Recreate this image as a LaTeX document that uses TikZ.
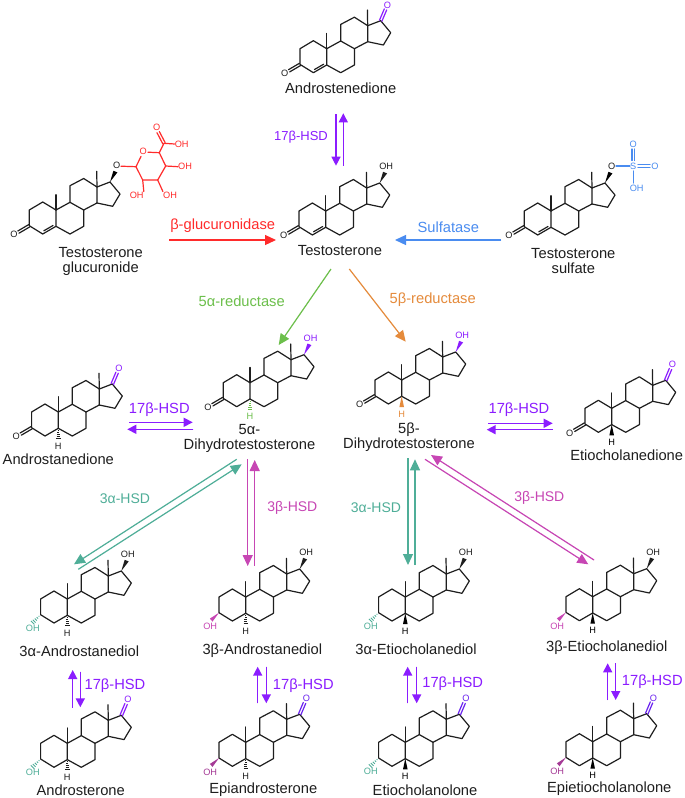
\documentclass[tikz,border=0pt]{standalone}
\usepackage{fontspec}
\setmainfont{Liberation Sans}
\usetikzlibrary{arrows.meta}
\definecolor{cpur}{HTML}{8B1CFF}
\definecolor{cblu}{HTML}{6A22F0}
\definecolor{cred}{HTML}{FF2B2B}
\definecolor{csky}{HTML}{4A8CF0}
\definecolor{cgrn}{HTML}{6CBF4B}
\definecolor{corg}{HTML}{E58B3C}
\definecolor{ctea}{HTML}{4FAE98}
\definecolor{cmag}{HTML}{C746B4}
\definecolor{cdrk}{HTML}{A53A96}
\definecolor{cink}{HTML}{1E1E1E}
\tikzset{
  bond/.style={draw=cink,line width=1.2pt,line join=round,line cap=round},
  atom/.style={font=\fontsize{9.2}{10}\selectfont,inner sep=0pt},
  lab/.style={font=\fontsize{14.7}{15}\selectfont,align=center,inner sep=0pt,text=cink},
  enz/.style={font=\fontsize{14.7}{15}\selectfont,inner sep=0pt},
  enzs/.style={font=\fontsize{14}{15}\selectfont,inner sep=0pt},
  enzt/.style={font=\fontsize{13}{15}\selectfont,inner sep=0pt},
  rxn/.style={line width=1.2pt,-{Triangle[length=11pt,width=10pt]}},
  rxp/.style={line width=1.5pt,draw=cpur,-{Triangle[length=9pt,width=9pt]},fill=cpur},
}
% ---- building blocks, coordinates relative to C10 ----
\newcommand{\skel}{%
  \draw[bond] (-26.7,0) -- (-13.3,-8) -- (0,0) -- (0,16.3) -- (-13.3,24) -- (-26.7,15.7) -- cycle;
  \draw[bond] (0,0) -- (14,-7.7) -- (27.7,0) -- (27.7,16.3) -- (14,24) -- (0,16.3);
  \draw[bond] (14,-7.7) -- (14,-24.3) -- (27.7,-31.5) -- (41,-23) -- (41,-7) -- (27.7,0);
  \draw[bond] (41,-23) -- (54,-28) -- (64,-16) -- (56.7,-3.7) -- (41,-7);
  \draw[bond] (0,0) -- (0,-15.3);
  \draw[bond] (41,-23) -- (40.7,-38.7);
}
\newcommand{\eneA}{\draw[bond] (-12.2,20.8) -- (-3,15.5);}
\newcommand{\ketoA}{%
  \draw[bond] (-26.1,16.8) -- (-37,23.2);
  \draw[bond] (-27.3,14.6) -- (-38.2,21);
  \node[atom,text=cink] (\sid-o3) at (-42,24.7) {O};
}
\newcommand{\ketoD}[1]{%
  \draw[bond,draw=#1] (55.2,-27.5) -- (60,-38.8);
  \draw[bond,draw=#1] (52.8,-28.5) -- (57.6,-39.8);
  \node[atom,text=#1] (\sid-o17) at (60.7,-43.7) {O};
}
\newcommand{\wedgeD}[1]{\fill[#1] (54,-28) -- (57.4,-39.2) -- (61.4,-37.6) -- cycle;}
\newcommand{\ohD}[1]{\wedgeD{#1}\node[atom,text=#1] (\sid-oh17) at (60.5,-44.6) {OH};}
\newcommand{\oD}{\wedgeD{black}\node[atom,text=cink] (\sid-o17) at (60.7,-45) {O};}
\newcommand{\ohAb}[1]{%
  \fill[#1] (-26.7,15.7) -- (-33.2,24.6) -- (-35.8,21.6) -- cycle;
  \node[atom,text=#1] (\sid-oh3) at (-35.5,29.7) {OH};
}
\newcommand{\ohAa}[1]{%
  \foreach \t in {.2,.4,.6,.8,1}{\draw[#1,line width=.9pt] ({-26.7-8*\t+1.7*\t},{15.7+8*\t+1.7*\t}) -- ({-26.7-8*\t-1.7*\t},{15.7+8*\t-1.7*\t});}
  \node[atom,text=#1] (\sid-oh3) at (-34.5,29.5) {OH};
}
\newcommand{\hA}[1]{%
  \foreach \t in {.2,.4,.6,.8,1}{\draw[#1,line width=.9pt] ({-2.2*\t},{16.3+10*\t}) -- ({2.2*\t},{16.3+10*\t});}
  \node[atom,text=#1] (\sid-h5) at (0,34) {H};
}
\newcommand{\hB}[1]{%
  \fill[#1] (0,16.3) -- (-2.3,27) -- (2.3,27) -- cycle;
  \node[atom,text=#1] (\sid-h5) at (0,34) {H};
}
\newcommand{\steroid}[4]{\begin{scope}[shift={(#2,#3)}]\def\sid{#1}\skel #4\end{scope}}
\newcommand{\rx}[4]{\coordinate (#2-a) at (#3); \coordinate (#2-b) at (#4); \draw[#1] (#2-a) -- (#2-b);}
\begin{document}
\begin{tikzpicture}[x=1pt,y=-1pt]
\path[use as bounding box,fill=white] (0,0) rectangle (685,798);

% ---- molecules ----
\steroid{ad}{326.7}{48.7}{\eneA\ketoA\ketoD{cpur}}
\steroid{tg}{56}{210}{\eneA\ketoA\oD}
\steroid{te}{325.7}{211}{\eneA\ketoA\ohD{cink}}
\steroid{ts}{551}{211}{\eneA\ketoA\oD}
\steroid{dha}{250}{382.7}{\ketoA\ohD{cpur}\hA{cgrn}}
\steroid{dhb}{401.7}{380}{\ketoA\ohD{cpur}\hB{corg}}
\steroid{adn}{58.3}{412}{\ketoA\ketoD{cpur}\hA{cink}}
\steroid{etn}{611.7}{408.3}{\ketoA\ketoD{cpur}\hB{black}}
\steroid{aaa}{67.3}{599}{\ohAa{ctea}\ohD{cink}\hA{cink}}
\steroid{aab}{245.7}{597}{\ohAb{cmag}\ohD{cink}\hA{cink}}
\steroid{eea}{405.3}{597}{\ohAa{ctea}\ohD{cink}\hB{black}}
\steroid{eeb}{592.7}{596.7}{\ohAb{cmag}\ohD{cink}\hB{black}}
\steroid{ast}{67.3}{743.3}{\ohAa{ctea}\ketoD{cpur}\hA{cink}}
\steroid{eps}{245.7}{742.3}{\ohAb{cdrk}\ketoD{cblu}\hA{cink}}
\steroid{eto}{405.3}{742.3}{\ohAa{ctea}\ketoD{cblu}\hB{black}}
\steroid{epe}{592.7}{741.7}{\ohAb{cdrk}\ketoD{cblu}\hB{black}}

% ---- glucuronide ----
\tikzset{rb/.style={bond,draw=cred}}
\node[atom,text=cred] (gO) at (143.3,151.7) {O};
\node[atom,text=cred] (gOa) at (156.7,127.3) {O};
\node[atom,text=cred] (gOH1) at (181.7,144) {OH};
\node[atom,text=cred] (gOH2) at (185,166.7) {OH};
\node[atom,text=cred] (gOH3) at (170,195) {OH};
\node[atom,text=cred] (gOH4) at (136.7,195) {OH};
\draw[rb] (121,166.2) -- (136,166.7) -- (141,156.5);
\draw[rb] (148,152.2) -- (159.3,152.7) -- (165.7,166) -- (157.7,180) -- (142.7,180) -- (136,166.7);
\draw[rb] (159.3,152.7) -- (164,143.3) -- (gOH1.west);
\draw[rb] (165.2,142.7) -- (159.3,131.5);
\draw[rb] (162.8,143.9) -- (157,132.7);
\draw[rb] (165.7,166) -- (gOH2.west);
\draw[rb] (157.7,180) -- (gOH3.north west);
\draw[rb] (142.7,180) -- (gOH4.north east);

% ---- sulfate ----
\tikzset{sb/.style={bond,draw=csky}}
\node[atom,text=csky] (sS) at (633.3,166) {S};
\node[atom,text=csky] (sO1) at (633.3,144) {O};
\node[atom,text=csky] (sO2) at (655,166) {O};
\node[atom,text=csky] (sOH) at (636.7,188.3) {OH};
\draw[sb] (616,166) -- (sS.west);
\draw[sb] (631.9,160.5) -- (631.9,149);
\draw[sb] (634.7,160.5) -- (634.7,149);
\draw[sb] (638,164.6) -- (650,164.6);
\draw[sb] (638,167.4) -- (650,167.4);
\draw[sb] (633.3,171) -- (633.3,183);

% ---- compound names ----
\node[lab] (nad) at (340.7,88) {Androstenedione};
\node[lab] (ntg) at (100.7,261.5) {Testosterone\\glucuronide};
\node[lab] (nte) at (340,251) {Testosterone};
\node[lab] (nts) at (573.3,261.5) {Testosterone\\sulfate};
\node[lab] (ndha) at (249.5,438) {5α-\\Dihydrotestosterone};
\node[lab] (ndhb) at (409,437) {5β-\\Dihydrotestosterone};
\node[lab] (nadn) at (58.3,459.3) {Androstanedione};
\node[lab] (netn) at (626.7,455) {Etiocholanedione};
\node[lab] (naaa) at (79.3,651.7) {3α-Androstanediol};
\node[lab] (naab) at (262.3,650.7) {3β-Androstanediol};
\node[lab] (neea) at (416,649) {3α-Etiocholanediol};
\node[lab] (neeb) at (606.7,647.3) {3β-Etiocholanediol};
\node[lab] (nast) at (80.7,790.7) {Androsterone};
\node[lab] (neps) at (263.3,789.3) {Epiandrosterone};
\node[lab] (neto) at (425,790) {Etiocholanolone};
\node[lab] (nepe) at (609.3,788.3) {Epietiocholanolone};

% ---- enzymes ----
\node[enzt,text=cpur] (e1) at (301,137.3) {17β-HSD};
\node[enz,text=cred] (e2) at (222.7,226) {β-glucuronidase};
\node[enz,text=csky] (e3) at (448.3,227.3) {Sulfatase};
\node[enz,text=cgrn] (e4) at (241.7,301) {5α-reductase};
\node[enz,text=corg] (e5) at (432.7,299.3) {5β-reductase};
\node[enz,text=cpur] (e6) at (159.3,409.3) {17β-HSD};
\node[enz,text=cpur] (e7) at (519,410) {17β-HSD};
\node[enzs,text=ctea] (e8) at (125,499) {3α-HSD};
\node[enzs,text=cmag] (e9) at (292.3,508.3) {3β-HSD};
\node[enzs,text=ctea] (e10) at (376,507.3) {3α-HSD};
\node[enzs,text=cmag] (e11) at (539.3,497.7) {3β-HSD};
\node[enz,text=cpur] (e12) at (115,686) {17β-HSD};
\node[enz,text=cpur] (e13) at (303.3,685.7) {17β-HSD};
\node[enz,text=cpur] (e14) at (452.7,683.3) {17β-HSD};
\node[enz,text=cpur] (e15) at (652.3,681.7) {17β-HSD};

% ---- reactions ----
\rx{rxp,line width=1.2pt}{r1}{336,114}{336,165.7}
\rx{rxp,line width=1.2pt}{r2}{343.3,165.7}{343.3,113.3}
\rx{rxn,draw=cred,fill=cred}{r3}{169,240}{276,240}
\rx{rxn,draw=csky,fill=csky}{r4}{501,240}{395,240}
\rx{rxn,draw=cgrn,fill=cgrn}{r5}{331,269}{278.7,345}
\rx{rxn,draw=corg,fill=corg}{r6}{349.3,269}{405.7,341.7}
\rx{rxp}{r7}{129,422.3}{192.7,422.3}
\rx{rxp}{r8}{193.3,429.3}{127.3,429.3}
\rx{rxp}{r9}{488.3,423.3}{552.7,423.3}
\rx{rxp}{r10}{552.7,429.7}{486.7,429.7}
\rx{rxn,draw=ctea,fill=ctea}{r11}{236.7,459.3}{74,564.3}
\rx{rxn,draw=ctea,fill=ctea}{r12}{78.3,569.3}{241.7,464.3}
\rx{rxn,draw=cmag,fill=cmag}{r13}{247.7,459}{247.7,566}
\rx{rxn,draw=cmag,fill=cmag}{r14}{254.7,565.7}{254.7,460}
\rx{rxn,draw=ctea,fill=ctea}{r15}{408,458.3}{408,565}
\rx{rxn,draw=ctea,fill=ctea}{r16}{415,565}{415,459.3}
\rx{rxn,draw=cmag,fill=cmag}{r17}{594,560}{431,455}
\rx{rxn,draw=cmag,fill=cmag}{r18}{425,459.3}{588.3,564.3}
\rx{rxp}{r19}{72.7,707.7}{72.7,670}
\rx{rxp}{r20}{80.3,671.7}{80.3,707.3}
\rx{rxp}{r21}{257.7,703.3}{257.7,666.7}
\rx{rxp}{r22}{266.3,666.7}{266.3,703.3}
\rx{rxp}{r23}{407.7,703.3}{407.7,666.7}
\rx{rxp}{r24}{416.7,666.7}{416.7,703.3}
\rx{rxp}{r25}{607.7,700}{607.7,663.3}
\rx{rxp}{r26}{615.7,663.3}{615.7,700}
\end{tikzpicture}
\end{document}
